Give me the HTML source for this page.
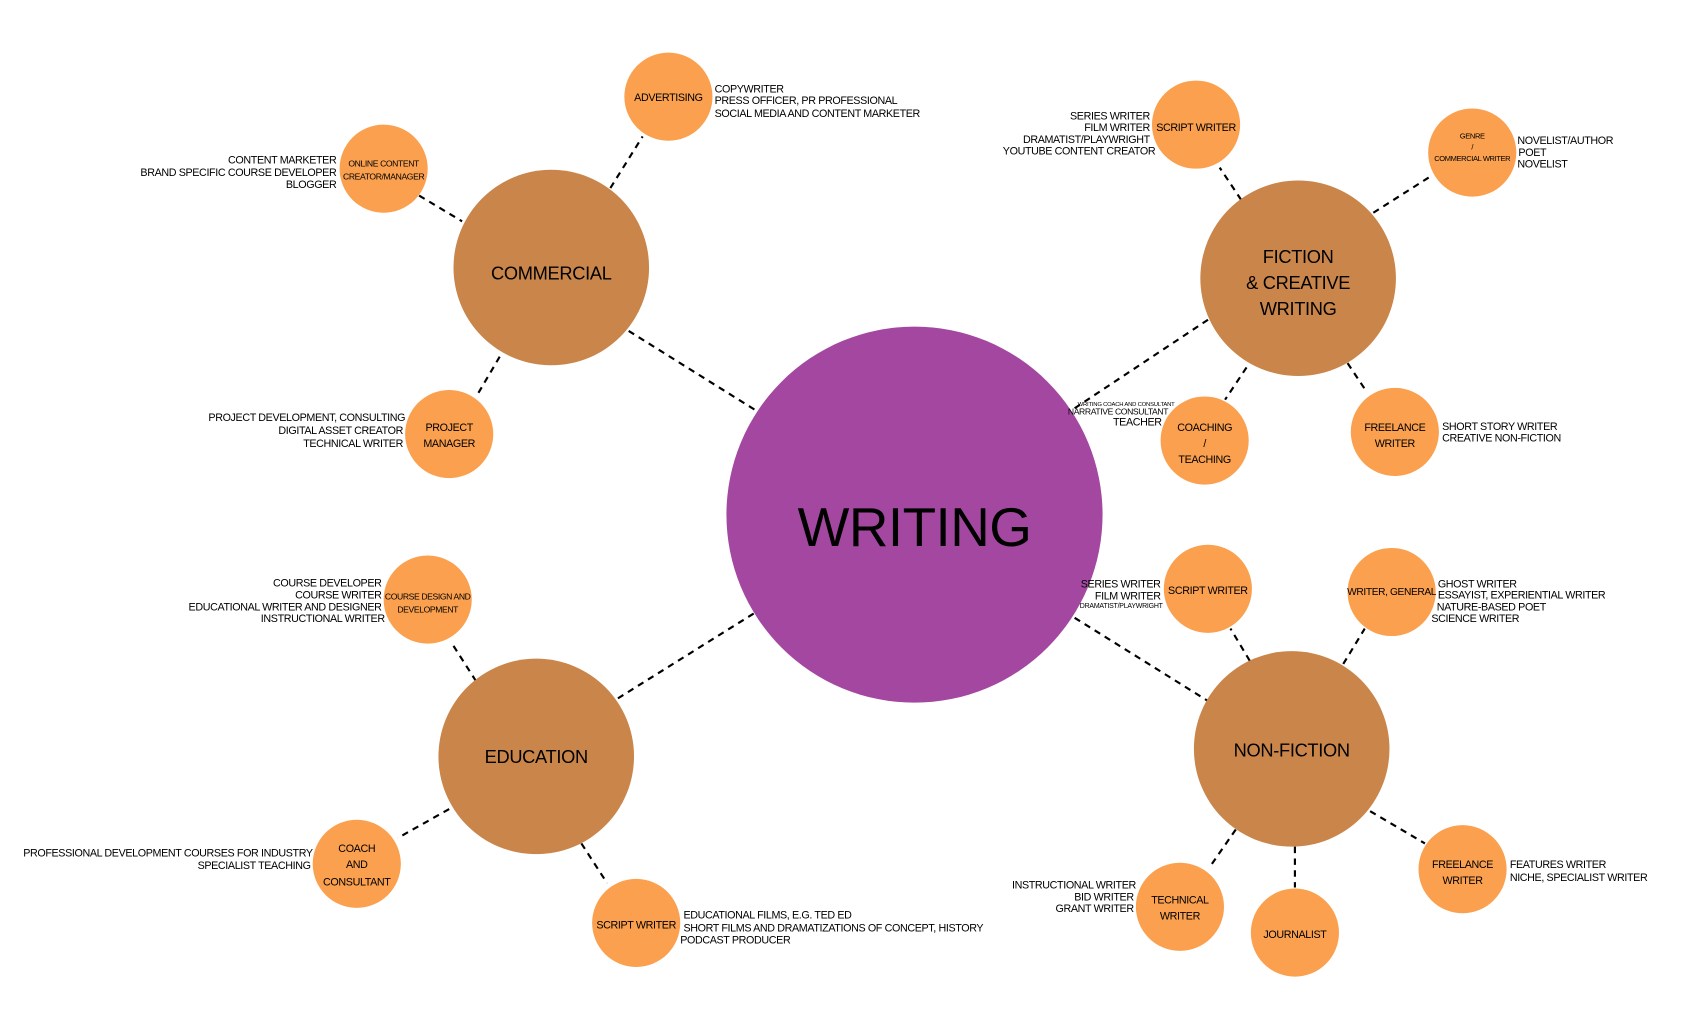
<!DOCTYPE html>
<html><head><meta charset="utf-8"><style>
html,body{margin:0;padding:0;background:#fff;}
svg{display:block;}
text{font-family:"Liberation Sans",sans-serif;fill:#000;}
.s{font-size:10px;letter-spacing:-0.35px;}
.c{font-size:10px;letter-spacing:-0.35px;text-anchor:middle;}
.e{text-anchor:end;}
.b{font-size:17px;text-anchor:middle;letter-spacing:-0.3px;}
line{stroke:#000;stroke-width:2;stroke-dasharray:6,5;}
.o{fill:#FAA04E;}
.m{fill:#C9854A;}
</style></head><body>
<svg width="1685" height="1025" viewBox="0 0 1568 954" preserveAspectRatio="none" xmlns="http://www.w3.org/2000/svg">
<line x1="585" y1="308" x2="705" y2="383"/>
<line x1="1000" y1="380" x2="1128" y2="295"/>
<line x1="575" y1="650" x2="703" y2="570"/>
<line x1="1000" y1="575" x2="1125" y2="653"/>
<line x1="568" y1="175" x2="598" y2="127"/>
<line x1="390" y1="182" x2="430" y2="206"/>
<line x1="465" y1="332" x2="445" y2="366"/>
<line x1="1155" y1="186" x2="1135" y2="156"/>
<line x1="1278" y1="198" x2="1333" y2="163"/>
<line x1="1160" y1="342" x2="1140" y2="372"/>
<line x1="1254" y1="338" x2="1272" y2="365"/>
<line x1="1163" y1="615" x2="1145" y2="585"/>
<line x1="1250" y1="618" x2="1270" y2="585"/>
<line x1="1150" y1="772" x2="1125" y2="808"/>
<line x1="1205" y1="788" x2="1205" y2="826"/>
<line x1="1275" y1="755" x2="1326" y2="785"/>
<line x1="443" y1="634" x2="420" y2="598"/>
<line x1="418" y1="753" x2="370" y2="780"/>
<line x1="541" y1="785" x2="565" y2="822"/>

<circle cx="851" cy="479" r="175" fill="#A347A0"/>
<text x="851" y="508" text-anchor="middle" style="font-size:51px;letter-spacing:-0.5px">WRITING</text>

<circle class="m" cx="513" cy="249" r="91"/>
<text class="b" x="513" y="260">COMMERCIAL</text>
<circle class="m" cx="1208" cy="259" r="91"/>
<text class="b" x="1208" y="245">FICTION</text>
<text class="b" x="1208" y="269">&amp; CREATIVE</text>
<text class="b" x="1208" y="293">WRITING</text>
<circle class="m" cx="499" cy="704" r="91"/>
<text class="b" x="499" y="710">EDUCATION</text>
<circle class="m" cx="1202" cy="697" r="91"/>
<text class="b" x="1202" y="704">NON-FICTION</text>

<circle class="o" cx="622" cy="90" r="41"/>
<text class="c" x="622" y="94">ADVERTISING</text>
<text class="s" x="665" y="86">COPYWRITER</text>
<text class="s" x="665" y="97">PRESS OFFICER, PR PROFESSIONAL</text>
<text class="s" x="665" y="109">SOCIAL MEDIA AND CONTENT MARKETER</text>

<circle class="o" cx="357" cy="157" r="41"/>
<text class="c" x="357" y="155" style="font-size:8px">ONLINE CONTENT</text>
<text class="c" x="357" y="167" style="font-size:8px">CREATOR/MANAGER</text>
<text class="s e" x="313" y="152">CONTENT MARKETER</text>
<text class="s e" x="313" y="164">BRAND SPECIFIC COURSE DEVELOPER</text>
<text class="s e" x="313" y="175">BLOGGER</text>

<circle class="o" cx="418" cy="404" r="41"/>
<text class="c" x="418" y="401">PROJECT</text>
<text class="c" x="418" y="416">MANAGER</text>
<text class="s e" x="377" y="392">PROJECT DEVELOPMENT, CONSULTING</text>
<text class="s e" x="375" y="404">DIGITAL ASSET CREATOR</text>
<text class="s e" x="375" y="416">TECHNICAL WRITER</text>

<circle class="o" cx="1113" cy="116" r="41"/>
<text class="c" x="1113" y="122">SCRIPT WRITER</text>
<text class="s e" x="1070" y="111">SERIES WRITER</text>
<text class="s e" x="1070" y="122">FILM WRITER</text>
<text class="s e" x="1070" y="133">DRAMATIST/PLAYWRIGHT</text>
<text class="s e" x="1075" y="144">YOUTUBE CONTENT CREATOR</text>

<circle class="o" cx="1370" cy="142" r="41"/>
<text class="c" x="1370" y="129" style="font-size:7px">GENRE</text>
<text class="c" x="1370" y="139" style="font-size:7px">/</text>
<text class="c" x="1370" y="150" style="font-size:7px">COMMERCIAL WRITER</text>
<text class="s" x="1412" y="134">NOVELIST/AUTHOR</text>
<text class="s" x="1413" y="145">POET</text>
<text class="s" x="1412" y="156">NOVELIST</text>

<circle class="o" cx="1121" cy="410" r="41"/>
<text class="c" x="1121" y="401">COACHING</text>
<text class="c" x="1121" y="416">/</text>
<text class="c" x="1121" y="431">TEACHING</text>
<text class="s e" x="1093" y="378" style="font-size:5.5px;letter-spacing:-0.2px">WRITING COACH AND CONSULTANT</text>
<text class="s e" x="1087" y="386" style="font-size:8px">NARRATIVE CONSULTANT</text>
<text class="s e" x="1081" y="396">TEACHER</text>

<circle class="o" cx="1298" cy="402" r="41"/>
<text class="c" x="1298" y="401">FREELANCE</text>
<text class="c" x="1298" y="416">WRITER</text>
<text class="s" x="1342" y="400">SHORT STORY WRITER</text>
<text class="s" x="1342" y="411">CREATIVE NON-FICTION</text>

<circle class="o" cx="1124" cy="548" r="41"/>
<text class="c" x="1124" y="553">SCRIPT WRITER</text>
<text class="s e" x="1080" y="547">SERIES WRITER</text>
<text class="s e" x="1080" y="558">FILM WRITER</text>
<text class="s e" x="1082" y="566" style="font-size:6.5px;letter-spacing:-0.2px">DRAMATIST/PLAYWRIGHT</text>

<circle class="o" cx="1295" cy="551" r="41"/>
<text class="c" x="1295" y="554" style="font-size:9.5px">WRITER, GENERAL</text>
<text class="s" x="1338" y="547">GHOST WRITER</text>
<text class="s" x="1338" y="557">ESSAYIST, EXPERIENTIAL WRITER</text>
<text class="s" x="1337" y="568">NATURE-BASED POET</text>
<text class="s" x="1332" y="579">SCIENCE WRITER</text>

<circle class="o" cx="1098" cy="844" r="41"/>
<text class="c" x="1098" y="841">TECHNICAL</text>
<text class="c" x="1098" y="856">WRITER</text>
<text class="s e" x="1057" y="827">INSTRUCTIONAL WRITER</text>
<text class="s e" x="1055" y="838">BID WRITER</text>
<text class="s e" x="1055" y="849">GRANT WRITER</text>

<circle class="o" cx="1205" cy="868" r="41"/>
<text class="c" x="1205" y="873">JOURNALIST</text>

<circle class="o" cx="1361" cy="809" r="41"/>
<text class="c" x="1361" y="808">FREELANCE</text>
<text class="c" x="1361" y="823">WRITER</text>
<text class="s" x="1405" y="808">FEATURES WRITER</text>
<text class="s" x="1405" y="820">NICHE, SPECIALIST WRITER</text>

<circle class="o" cx="398" cy="558" r="41"/>
<text class="c" x="398" y="558" style="font-size:8px">COURSE DESIGN AND</text>
<text class="c" x="398" y="570" style="font-size:8px">DEVELOPMENT</text>
<text class="s e" x="355" y="546">COURSE DEVELOPER</text>
<text class="s e" x="355" y="557">COURSE WRITER</text>
<text class="s e" x="355" y="568">EDUCATIONAL WRITER AND DESIGNER</text>
<text class="s e" x="358" y="579">INSTRUCTIONAL WRITER</text>

<circle class="o" cx="332" cy="804" r="41"/>
<text class="c" x="332" y="793">COACH</text>
<text class="c" x="332" y="808">AND</text>
<text class="c" x="332" y="824">CONSULTANT</text>
<text class="s e" x="291" y="797">PROFESSIONAL DEVELOPMENT COURSES FOR INDUSTRY</text>
<text class="s e" x="289" y="809">SPECIALIST TEACHING</text>

<circle class="o" cx="592" cy="859" r="41"/>
<text class="c" x="592" y="864">SCRIPT WRITER</text>
<text class="s" x="636" y="855">EDUCATIONAL FILMS, E.G. TED ED</text>
<text class="s" x="636" y="867">SHORT FILMS AND DRAMATIZATIONS OF CONCEPT, HISTORY</text>
<text class="s" x="633" y="878">PODCAST PRODUCER</text>
</svg>
</body></html>
